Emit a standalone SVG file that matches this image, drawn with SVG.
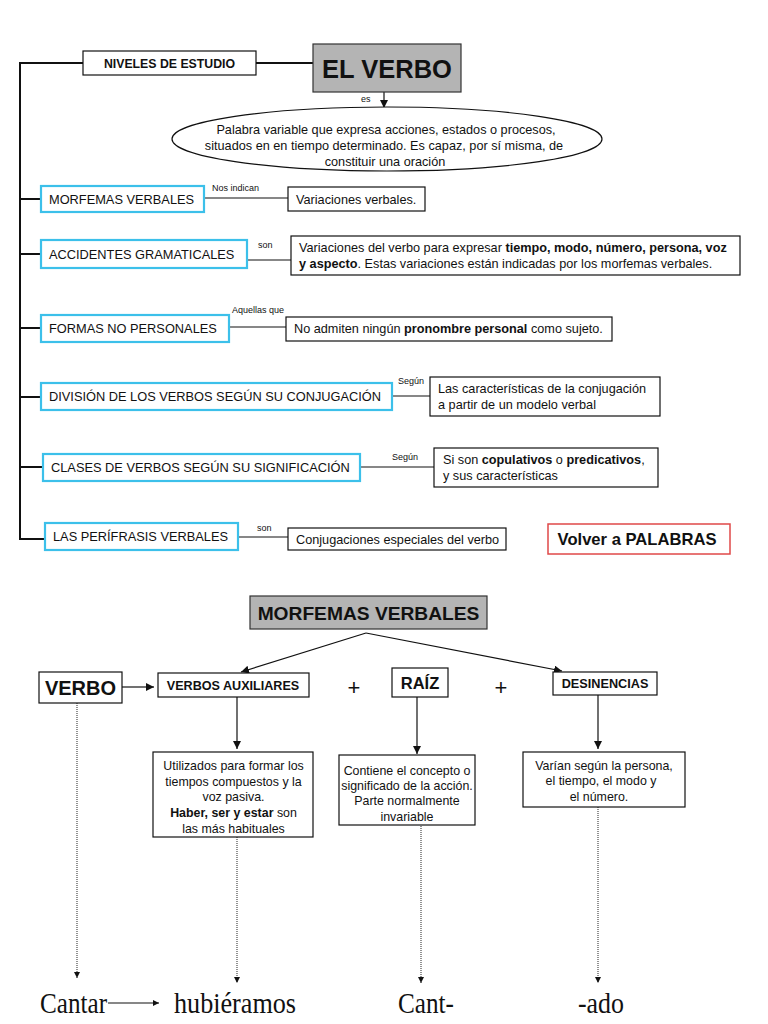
<svg xmlns="http://www.w3.org/2000/svg" width="768" height="1024" viewBox="0 0 768 1024">
<defs>
<style>
text{font-family:"Liberation Sans",Arial,sans-serif;fill:#111}
.box{fill:#fff;stroke:#111;stroke-width:1.2}
.gray{fill:#b4b4b4;stroke:#333;stroke-width:1.2}
.cyan{fill:#fff;stroke:#3cc0ea;stroke-width:2.2}
.red{fill:#fff;stroke:#e04848;stroke-width:1.5}
.ln{stroke:#111;stroke-width:1.2;fill:none}
.trunk{stroke:#111;stroke-width:2;fill:none}
.dot{stroke:#777;stroke-width:1.6;stroke-dasharray:1 1;fill:none}
.lbl{font-size:12.8px}
.txt{font-size:12.7px}
.bt{font-size:12.4px}
.sm{font-size:9px}
.b{font-weight:bold}
.serif{font-family:"Liberation Serif","Times New Roman",serif;font-size:30px}
</style>
<marker id="ah" viewBox="0 0 10 10" refX="10" refY="5" markerWidth="8" markerHeight="8" markerUnits="userSpaceOnUse" orient="auto">
<path d="M0,0 L10,5 L0,10 z" fill="#111"/>
</marker>
<marker id="ahs" viewBox="0 0 10 10" refX="10" refY="5" markerWidth="6" markerHeight="6" markerUnits="userSpaceOnUse" orient="auto">
<path d="M0,0 L10,5 L0,10 z" fill="#111"/>
</marker>
</defs>
<rect width="768" height="1024" fill="#fff"/>

<g id="connectors">
<path class="trunk" d="M83,63 H20 V539 H45"/>
<line class="trunk" x1="256" y1="63" x2="313" y2="63"/>
<line class="trunk" x1="20" y1="199" x2="41" y2="199"/>
<line class="trunk" x1="20" y1="254" x2="41" y2="254"/>
<line class="trunk" x1="20" y1="328" x2="41" y2="328"/>
<line class="trunk" x1="20" y1="397" x2="41" y2="397"/>
<line class="trunk" x1="20" y1="467" x2="43" y2="467"/>
<line class="ln" x1="384" y1="92" x2="384" y2="108" marker-end="url(#ah)"/>
<text class="sm" x="361" y="102">es</text>
<line class="ln" x1="204" y1="198" x2="288" y2="198"/>
<text class="sm" x="212" y="191">Nos indican</text>
<line class="ln" x1="247" y1="260" x2="291" y2="260"/>
<text class="sm" x="258" y="248">son</text>
<line class="ln" x1="229" y1="327" x2="286" y2="327"/>
<text class="sm" x="232" y="313">Aquellas que</text>
<line class="ln" x1="392" y1="396" x2="430" y2="396"/>
<text class="sm" x="398" y="384">Según</text>
<line class="ln" x1="360" y1="467" x2="434" y2="467"/>
<text class="sm" x="392" y="460">Según</text>
<line class="ln" x1="238" y1="537" x2="288" y2="537"/>
<text class="sm" x="257" y="531">son</text>

<line class="ln" x1="366" y1="633" x2="241" y2="672" marker-end="url(#ah)"/>
<line class="ln" x1="366" y1="633" x2="562" y2="671" marker-end="url(#ah)"/>
<line class="ln" x1="122" y1="687" x2="154" y2="687" marker-end="url(#ah)"/>
<line class="ln" x1="237" y1="697" x2="237" y2="749" marker-end="url(#ah)"/>
<line class="ln" x1="417" y1="697" x2="417" y2="754" marker-end="url(#ah)"/>
<line class="ln" x1="598" y1="695" x2="598" y2="749" marker-end="url(#ah)"/>
<line class="dot" x1="77" y1="703" x2="77" y2="978" marker-end="url(#ahs)"/>
<line class="dot" x1="237" y1="837" x2="237" y2="983" marker-end="url(#ahs)"/>
<line class="dot" x1="421" y1="808" x2="421" y2="983" marker-end="url(#ahs)"/>
<line class="dot" x1="598" y1="807" x2="598" y2="983" marker-end="url(#ahs)"/>
<line class="ln" x1="108" y1="1003" x2="159" y2="1003" marker-end="url(#ahs)"/>
</g>

<g id="niveles">
<rect class="box" x="83" y="51" width="173" height="24"/>
<text class="b" x="169.5" y="67.5" font-size="12.3" text-anchor="middle">NIVELES DE ESTUDIO</text>
</g>
<g id="el-verbo">
<rect class="gray" x="313" y="44" width="148" height="48"/>
<text class="b" x="387" y="77.5" font-size="25.5" text-anchor="middle">EL VERBO</text>
</g>
<g id="definicion">
<ellipse cx="387" cy="139" rx="215" ry="32" fill="#fff" stroke="#111" stroke-width="1.2"/>
<text class="txt" x="386" y="134" text-anchor="middle">Palabra variable que expresa acciones, estados o procesos,</text>
<text class="txt" x="384" y="150" text-anchor="middle">situados en en tiempo determinado. Es capaz, por sí misma, de</text>
<text class="txt" x="385" y="166" text-anchor="middle">constituir una oración</text>
</g>

<g id="morfemas">
<rect class="cyan" x="41" y="186" width="163" height="26"/>
<text class="lbl" x="49" y="203.5">MORFEMAS VERBALES</text>
</g>
<g id="variaciones">
<rect class="box" x="288" y="187" width="137" height="24"/>
<text class="txt" x="296" y="203.5">Variaciones verbales.</text>
</g>
<g id="accidentes">
<rect class="cyan" x="41" y="240" width="206" height="28"/>
<text class="lbl" x="49" y="258.5">ACCIDENTES GRAMATICALES</text>
</g>
<g id="variaciones-verbo">
<rect class="box" x="291" y="236" width="449" height="39"/>
<text class="txt" x="299" y="251.5">Variaciones del verbo para expresar <tspan class="b">tiempo, modo, número, persona, voz</tspan></text>
<text class="txt" x="299" y="267.5"><tspan class="b">y aspecto</tspan>. Estas variaciones están indicadas por los morfemas verbales.</text>
</g>
<g id="formas">
<rect class="cyan" x="41" y="315" width="188" height="27"/>
<text class="lbl" x="49" y="333">FORMAS NO PERSONALES</text>
</g>
<g id="no-admiten">
<rect class="box" x="286" y="317" width="326" height="24"/>
<text class="txt" x="294" y="333">No admiten ningún <tspan class="b">pronombre personal</tspan> como sujeto.</text>
</g>
<g id="division">
<rect class="cyan" x="41" y="383" width="351" height="27"/>
<text class="lbl" x="49" y="401">DIVISIÓN DE LOS VERBOS SEGÚN SU CONJUGACIÓN</text>
</g>
<g id="caracteristicas">
<rect class="box" x="430" y="377" width="230" height="39"/>
<text class="txt" x="438" y="392.5">Las características de la conjugación</text>
<text class="txt" x="438" y="409">a partir de un modelo verbal</text>
</g>
<g id="clases">
<rect class="cyan" x="43" y="454" width="317" height="27"/>
<text class="lbl" x="51" y="472">CLASES DE VERBOS SEGÚN SU SIGNIFICACIÓN</text>
</g>
<g id="si-son">
<rect class="box" x="434" y="448" width="224" height="39"/>
<text class="txt" x="443" y="463.5">Si son <tspan class="b">copulativos</tspan> o <tspan class="b">predicativos</tspan>,</text>
<text class="txt" x="443" y="479.5">y sus características</text>
</g>
<g id="perifrasis">
<rect class="cyan" x="45" y="523" width="193" height="27"/>
<text class="lbl" x="53" y="541">LAS PERÍFRASIS VERBALES</text>
</g>
<g id="conjugaciones">
<rect class="box" x="288" y="528" width="218" height="22"/>
<text class="txt" x="296" y="543.5">Conjugaciones especiales del verbo</text>
</g>
<g id="volver">
<rect class="red" x="548" y="524" width="182" height="30"/>
<text class="b" x="637" y="545" font-size="16.6" text-anchor="middle">Volver a PALABRAS</text>
</g>

<g id="morfemas-titulo">
<rect class="gray" x="250" y="596" width="237" height="33"/>
<text class="b" x="368.5" y="620" font-size="19.2" text-anchor="middle">MORFEMAS VERBALES</text>
</g>
<g id="verbo">
<rect class="box" x="39" y="672" width="83" height="31"/>
<text class="b" x="80.5" y="694.5" font-size="20" text-anchor="middle">VERBO</text>
</g>
<g id="auxiliares">
<rect class="box" x="158" y="673" width="151" height="24"/>
<text class="b" x="233" y="689.5" font-size="12.6" text-anchor="middle">VERBOS AUXILIARES</text>
</g>
<text x="354" y="695" font-size="22" text-anchor="middle">+</text>
<g id="raiz">
<rect class="box" x="392" y="668" width="56" height="29"/>
<text class="b" x="420" y="689" font-size="16.5" text-anchor="middle">RAÍZ</text>
</g>
<text x="501" y="695" font-size="22" text-anchor="middle">+</text>
<g id="desinencias">
<rect class="box" x="553" y="672" width="104" height="23"/>
<text class="b" x="605" y="688" font-size="12.7" text-anchor="middle">DESINENCIAS</text>
</g>
<g id="utilizados">
<rect class="box" x="153" y="752" width="160" height="85"/>
<text class="bt" x="233.5" y="770" text-anchor="middle">Utilizados para formar los</text>
<text class="bt" x="233.5" y="786" text-anchor="middle">tiempos compuestos y la</text>
<text class="bt" x="233.5" y="801" text-anchor="middle">voz pasiva.</text>
<text class="bt" x="233.5" y="817" text-anchor="middle"><tspan class="b">Haber, ser y estar</tspan> son</text>
<text class="bt" x="233.5" y="833" text-anchor="middle">las más habituales</text>
</g>
<g id="contiene">
<rect class="box" x="339" y="755" width="136" height="70"/>
<text class="bt" x="407" y="775" text-anchor="middle">Contiene el concepto o</text>
<text class="bt" x="407" y="790" text-anchor="middle">significado de la acción.</text>
<text class="bt" x="407" y="805" text-anchor="middle">Parte normalmente</text>
<text class="bt" x="407" y="821" text-anchor="middle">invariable</text>
</g>
<g id="varian">
<rect class="box" x="523" y="752" width="162" height="55"/>
<text class="bt" x="604" y="770" text-anchor="middle">Varían según la persona,</text>
<text class="bt" x="601" y="785" text-anchor="middle">el tiempo, el modo y</text>
<text class="bt" x="599" y="801" text-anchor="middle">el número.</text>
</g>

<g id="ejemplos">
<text class="serif" x="40" y="1013" textLength="67" lengthAdjust="spacingAndGlyphs">Cantar</text>
<text class="serif" x="174" y="1013" textLength="122" lengthAdjust="spacingAndGlyphs">hubiéramos</text>
<text class="serif" x="398" y="1013" textLength="56" lengthAdjust="spacingAndGlyphs">Cant-</text>
<text class="serif" x="578" y="1013" textLength="46" lengthAdjust="spacingAndGlyphs">-ado</text>
</g>
</svg>
